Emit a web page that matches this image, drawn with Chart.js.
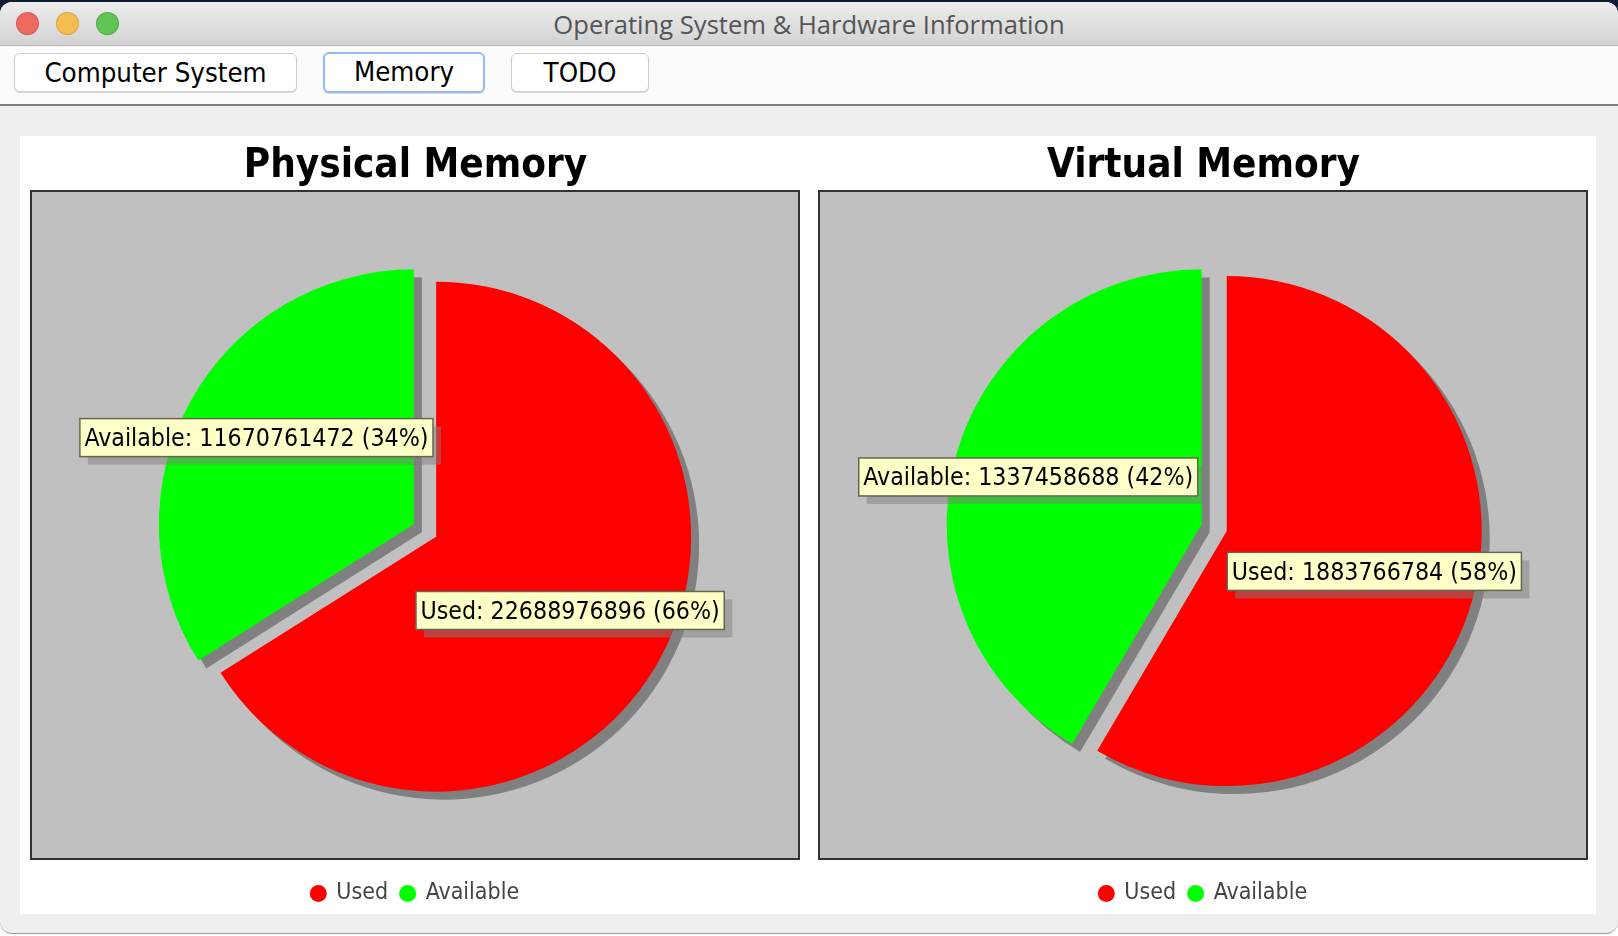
<!DOCTYPE html>
<html>
<head>
<meta charset="utf-8">
<title>Operating System &amp; Hardware Information</title>
<script src="https://cdn.jsdelivr.net/npm/chart.js@4/dist/chart.umd.min.js"></script>
<style>
    html, body { margin: 0; width: 1618px; height: 936px; overflow: hidden; background: #fff; }
    body { position: relative; font-family: "DejaVu Sans Condensed", "DejaVu Sans", sans-serif; }
    #topstrip { position: absolute; left: 0; top: 0; width: 1618px; height: 12px; background: #101c33; }
    #win { position: absolute; left: 0; top: 2px; width: 1618px; height: 932px; background: #eeeeee; border-radius: 12px; overflow: hidden; border-bottom: 1px solid #999; box-sizing: border-box; }
    #titlebar { position: absolute; left: 0; top: 0; width: 100%; height: 43px; background: linear-gradient(#ececec, #d3d3d3); border-bottom: 1px solid #b5b5b5; text-align: center; font: 25.6px/46px "Open Sans", sans-serif; color: #555; }
    .light { position: absolute; top: 10px; width: 23px; height: 23px; border-radius: 50%; box-sizing: border-box; border: 1px solid rgba(0,0,0,.12); }
    #toolbar { position: absolute; left: 0; top: 44px; width: 100%; height: 58px; background: #fbfbfb; border-bottom: 2px solid #808080; }
    .btn { position: absolute; top: 7px; height: 39px; box-sizing: border-box; background: #fff; border: 1px solid #cfcfcf; border-radius: 6px; box-shadow: 0 1px 1px rgba(0,0,0,.15); text-align: center; font-size: 27.4px; line-height: 37px; color: #000; }
    .btn.on { border: 2px solid #8fbcf3; line-height: 35px; top: 6px; height: 41px; }
    #panel { position: absolute; left: 20px; top: 136px; width: 1576px; height: 778px; background: #fff; }
    canvas { position: absolute; top: 136px; }
</style>
</head>
<body>
<div id="topstrip"></div>
<div id="win">
    <div id="titlebar">Operating System &amp; Hardware Information
        <div class="light" style="left:16px;background:#ee6a5f"></div>
        <div class="light" style="left:56px;background:#f5bd4f"></div>
        <div class="light" style="left:96px;background:#61c454"></div>
    </div>
    <div id="toolbar">
        <div class="btn" style="left:14px;width:283px">Computer System</div>
        <div class="btn on" style="left:323px;width:162px">Memory</div>
        <div class="btn" style="left:511px;width:138px">TODO</div>
    </div>
</div>
<div id="panel"></div>
<canvas id="physical" width="791" height="778" style="left:20px"></canvas>
<canvas id="virtual" width="785" height="778" style="left:811px"></canvas>

<script>
    const categories = ['Used', 'Available'];
    const sliceColors = ['#ff0000', '#00ff00'];
    const physicalValues = [22688976896, 11670761472];
    const virtualValues = [1883766784, 1337458688];

    const pieRadius = 255;
    const shadowShift = 8;

    const memoryPlugin = {
        id: 'memoryPlugin',
        afterLayout(chart) {
            const p = chart.options.plugins.memoryPlugin;
            const a = chart.chartArea;
            a.left = p.cx - pieRadius; a.right = p.cx + pieRadius;
            a.top = p.cy - pieRadius; a.bottom = p.cy + pieRadius;
            a.width = pieRadius * 2; a.height = pieRadius * 2;
        },
        afterDatasetUpdate(chart) {
            // chart.js grows an exploded arc and narrows its angle when it draws, take both back
            const p = chart.options.plugins.memoryPlugin;
            chart.getDatasetMeta(0).data.forEach(function(arc) {
                const grow = p.explode * (1 - Math.sin(Math.min(Math.PI, arc.circumference)));
                const spread = grow / Math.PI / pieRadius / 2;
                arc.outerRadius = pieRadius - grow;
                arc.startAngle -= spread;
                arc.endAngle += spread;
            });
        },
        beforeDraw(chart) {
            const p = chart.options.plugins.memoryPlugin;
            const ctx = chart.ctx;
            ctx.save();
            ctx.fillStyle = '#c0c0c0';
            ctx.strokeStyle = '#333';
            ctx.lineWidth = 2;
            ctx.fillRect(p.plot[0], p.plot[1], p.plot[2], p.plot[3]);
            ctx.strokeRect(p.plot[0], p.plot[1], p.plot[2], p.plot[3]);
            ctx.restore();
        },
        beforeDatasetsDraw(chart) {
            const ctx = chart.ctx;
            ctx.save();
            ctx.shadowColor = '#808080';
            ctx.shadowOffsetX = shadowShift;
            ctx.shadowOffsetY = shadowShift;
            ctx.shadowBlur = 0;
        },
        afterDatasetsDraw(chart) {
            const ctx = chart.ctx;
            ctx.restore();

            const p = chart.options.plugins.memoryPlugin;
            const values = chart.data.datasets[0].data;
            const total = values[0] + values[1];
            ctx.save();
            ctx.font = '24.7px "DejaVu Sans Condensed", "DejaVu Sans", sans-serif';
            ctx.textAlign = 'center';
            ctx.textBaseline = 'middle';
            chart.getDatasetMeta(0).data.forEach(function(arc, i) {
                const mid = (arc.startAngle + arc.endAngle) / 2;
                const dist = p.explode + p.depth[i] * pieRadius;
                const x = arc.x + Math.cos(mid) * dist;
                const y = arc.y + Math.sin(mid) * dist;
                const text = categories[i] + ': ' + values[i] + ' (' + Math.round(values[i] / total * 100) + '%)';
                const w = ctx.measureText(text).width + 9;
                const h = 38;
                ctx.fillStyle = 'rgba(128,128,128,0.5)';
                ctx.fillRect(x - w / 2 + shadowShift, y - h / 2 + shadowShift, w, h);
                ctx.fillStyle = '#ffffc8';
                ctx.fillRect(x - w / 2, y - h / 2, w, h);
                ctx.strokeStyle = '#666650';
                ctx.lineWidth = 1.5;
                ctx.strokeRect(x - w / 2, y - h / 2, w, h);
                ctx.fillStyle = '#000';
                ctx.fillText(text, x, y + 2);
            });
            ctx.restore();
        }
    };

    function makeChart(canvasId, title, values, offsets, pluginOpts) {
        return new Chart(document.getElementById(canvasId), {
            type: 'pie',
            data: {
                labels: categories,
                datasets: [{
                    data: values,
                    backgroundColor: sliceColors,
                    borderWidth: 0,
                    offset: offsets,
                    clip: false
                }]
            },
            options: {
                responsive: false,
                animation: false,
                radius: pieRadius,
                events: [],
                layout: { padding: { bottom: -1 } },
                plugins: {
                    title: {
                        display: true,
                        text: title,
                        color: '#000',
                        font: { family: '"DejaVu Sans Condensed", "DejaVu Sans", sans-serif', size: 40, weight: 'bold' },
                        padding: { top: 7, bottom: 0 }
                    },
                    legend: {
                        position: 'bottom',
                        labels: {
                            usePointStyle: true,
                            pointStyle: 'circle',
                            boxWidth: 13,
                            boxHeight: 12,
                            padding: 13,
                            color: '#444',
                            font: { family: '"DejaVu Sans Condensed", "DejaVu Sans", sans-serif', size: 23 }
                        }
                    },
                    tooltip: { enabled: false },
                    memoryPlugin: pluginOpts
                }
            },
            plugins: [memoryPlugin]
        });
    }

    makeChart('physical', 'Physical Memory', physicalValues, [50.8, 50.8], {
        cx: 405, cy: 394.5, explode: 12.7, depth: [0.6, 0.705], plot: [11, 55, 768, 668]
    });
    makeChart('virtual', 'Virtual Memory', virtualValues, [52, 52], {
        cx: 403.2, cy: 391.7, explode: 13, depth: [0.6, 0.705], plot: [8, 55, 768, 668]
    });
</script>
</body>
</html>
